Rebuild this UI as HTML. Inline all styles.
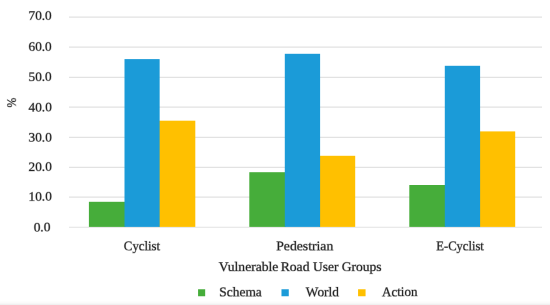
<!DOCTYPE html>
<html>
<head>
<meta charset="utf-8">
<title>Vulnerable Road User Groups</title>
<style>
html,body{margin:0;padding:0;background:#fff;}
body{width:550px;height:305px;overflow:hidden;position:relative;font-family:"Liberation Serif",serif;}
svg{position:absolute;left:0;top:0;display:block;}
text{font-family:"Liberation Serif",serif;fill:#242424;stroke:rgba(36,36,36,0.32);stroke-width:0.9px;}
</style>
</head>
<body>
<svg width="550" height="305" viewBox="0 0 550 305">
  <rect x="0" y="0" width="550" height="305" fill="#ffffff"/>
  <rect x="0" y="301" width="550" height="1" fill="#fdfdfd"/>
  <rect x="0" y="302" width="550" height="1" fill="#fbfbfb"/>
  <rect x="0" y="303" width="550" height="1" fill="#f7f7f7"/>
  <rect x="0" y="304" width="550" height="1" fill="#f0f0f0"/>

  <!-- gridlines -->
  <g stroke="#e2e2e2" stroke-width="1.3" fill="none">
    <line x1="69" y1="17.1" x2="542" y2="17.1"/>
    <line x1="69" y1="47.2" x2="542" y2="47.2"/>
    <line x1="69" y1="77.3" x2="542" y2="77.3"/>
    <line x1="69" y1="107.2" x2="542" y2="107.2"/>
    <line x1="69" y1="137.3" x2="542" y2="137.3"/>
    <line x1="69" y1="167.3" x2="542" y2="167.3"/>
    <line x1="69" y1="197.1" x2="542" y2="197.1"/>
    <line x1="69" y1="227.2" x2="542" y2="227.2" stroke-width="1.1"/>
  </g>

  <!-- bars -->
  <g>
    <rect x="88.9" y="201.8" width="36.6" height="25.1" fill="#46ad3a"/>
    <rect x="158.6" y="120.7" width="36.7" height="106.2" fill="#ffc000"/>
    <rect x="124.5" y="59.1" width="35.15" height="167.8" fill="#1b9bd8"/>

    <rect x="249.3" y="172.2" width="36.5" height="54.7" fill="#46ad3a"/>
    <rect x="319.1" y="155.8" width="36.1" height="71.1" fill="#ffc000"/>
    <rect x="284.8" y="53.8" width="35.3" height="173.1" fill="#1b9bd8"/>

    <rect x="409.3" y="185" width="36.5" height="41.9" fill="#46ad3a"/>
    <rect x="479.1" y="131.4" width="36.1" height="95.5" fill="#ffc000"/>
    <rect x="444.8" y="65.8" width="35.3" height="161.1" fill="#1b9bd8"/>
  </g>

  <g>
  <g transform="rotate(-0.03 275 150)">
  <!-- y axis labels -->
  <g font-size="12.8">
    <text x="28.6" y="19.7" textLength="23.2" lengthAdjust="spacingAndGlyphs">70.0</text>
    <text x="28.6" y="50.65" textLength="23.2" lengthAdjust="spacingAndGlyphs">60.0</text>
    <text x="28.6" y="80.75" textLength="23.2" lengthAdjust="spacingAndGlyphs">50.0</text>
    <text x="28.6" y="111.25" textLength="23.2" lengthAdjust="spacingAndGlyphs">40.0</text>
    <text x="28.6" y="141.35" textLength="23.2" lengthAdjust="spacingAndGlyphs">30.0</text>
    <text x="28.6" y="170.75" textLength="23.2" lengthAdjust="spacingAndGlyphs">20.0</text>
    <text x="28.6" y="200.5" textLength="23.2" lengthAdjust="spacingAndGlyphs">10.0</text>
    <text x="33.6" y="231.25" textLength="16.8" lengthAdjust="spacingAndGlyphs">0.0</text>
  </g>
  <text font-size="12.7" text-anchor="middle" textLength="9.7" lengthAdjust="spacingAndGlyphs" transform="translate(15.75,102.5) rotate(-89.8)">%</text>

  <!-- x axis labels -->
  <g font-size="13.2">
    <text x="123.8" y="250.1" textLength="36.3" lengthAdjust="spacingAndGlyphs">Cyclist</text>
    <text x="276.2" y="250.3" textLength="57" lengthAdjust="spacingAndGlyphs">Pedestrian</text>
    <text x="436.2" y="250.4" textLength="47.6" lengthAdjust="spacingAndGlyphs">E-Cyclist</text>
  </g>
  <text font-size="13.2" y="271"><tspan x="218.7" textLength="59.6" lengthAdjust="spacingAndGlyphs">Vulnerable</tspan> <tspan x="280.6" textLength="28.8" lengthAdjust="spacingAndGlyphs">Road</tspan> <tspan x="313" textLength="25.4" lengthAdjust="spacingAndGlyphs">User</tspan> <tspan x="341.6" textLength="40" lengthAdjust="spacingAndGlyphs">Groups</tspan></text>

  <!-- legend -->
  <rect x="198" y="289.2" width="7.1" height="7.1" fill="#46ad3a"/>
  <rect x="281.4" y="289.2" width="7.3" height="7.1" fill="#1b9bd8"/>
  <rect x="358" y="289.2" width="7.5" height="7.1" fill="#ffc000"/>
  <g font-size="13.2">
    <text x="219.3" y="296.2" textLength="42.4" lengthAdjust="spacingAndGlyphs">Schema</text>
    <text x="305.8" y="296.2" textLength="33" lengthAdjust="spacingAndGlyphs">World</text>
    <text x="382" y="296.2" textLength="35.4" lengthAdjust="spacingAndGlyphs">Action</text>
  </g>
  </g>
  </g>
</svg>
</body>
</html>
